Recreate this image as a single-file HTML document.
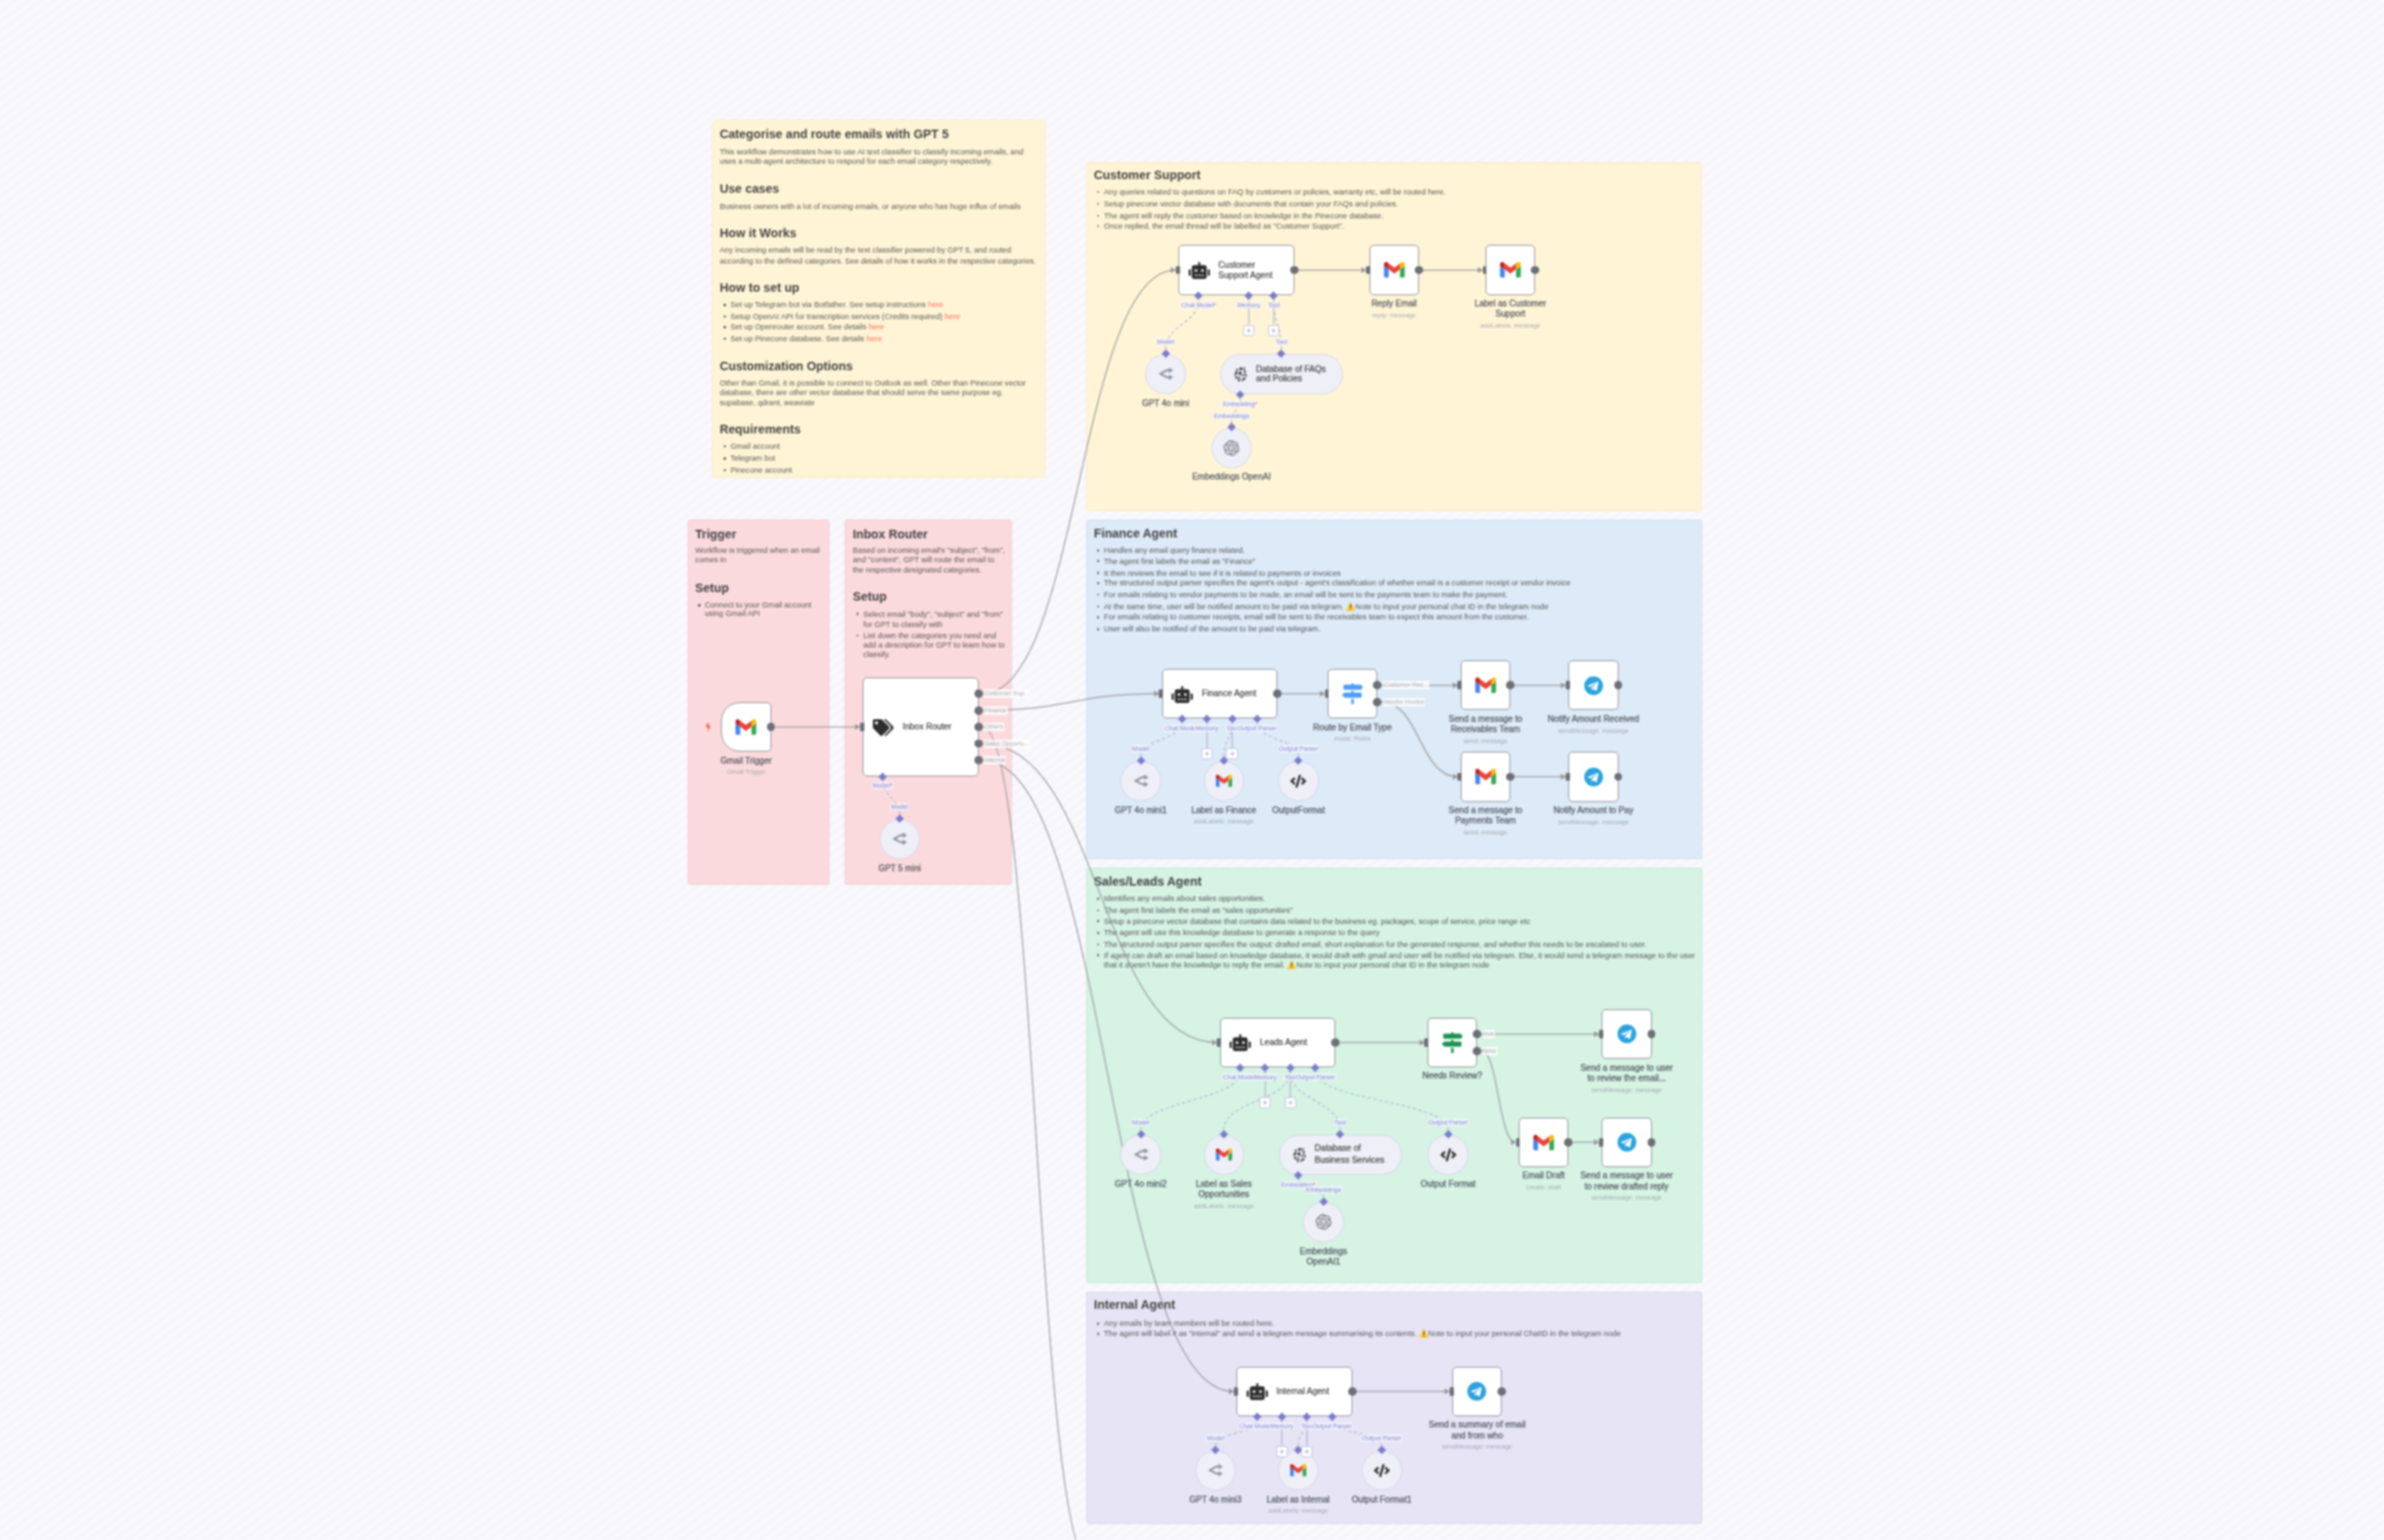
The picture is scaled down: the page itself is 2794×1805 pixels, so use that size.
<!DOCTYPE html>
<html lang="en"><head><meta charset="utf-8"><title>Categorise and route emails with GPT 5</title>
<style>
*{box-sizing:border-box;margin:0;padding:0}
html,body{width:2794px;height:1805px;overflow:hidden}
body{position:relative;font-family:"Liberation Sans",sans-serif;background-color:#f8f8fc;
background-image:repeating-linear-gradient(143deg,#f6f6fb 0,#f6f6fb 4.55px,#f9f9fd 4.55px,#f9f9fd 9.1px);}
#c{position:absolute;left:0;top:0;width:2794px;height:1805px;overflow:hidden;filter:blur(.8px)}
.st{position:absolute;border:1px solid;border-radius:2.5px}
.h{position:absolute;font-weight:700;font-size:14.25px;line-height:18px;color:#414141;white-space:nowrap}
.p{position:absolute;font-size:9.12px;line-height:12px;color:#555;white-space:nowrap}
.p a{color:#ff6d5a}
.bl{position:absolute;width:2.6px;height:2.6px;border-radius:50%;background:#555}
.edges{position:absolute;left:0;top:0;pointer-events:none}
.e{fill:none;stroke:#97999d;stroke-width:1.25}
.ah{fill:#97999d;stroke:#97999d;stroke-width:.6;stroke-linejoin:round}
.d{fill:none;stroke:#aeb0cf;stroke-width:1.2;stroke-dasharray:3.6 3.2}
.pv{fill:none;stroke:#aeb0cf;stroke-width:1.25}
.nd{position:absolute;background:#fff;border:1.4px solid #8c8f95;border-radius:5px}
.nd.trg{border-radius:22px 5px 5px 22px}
.sn{position:absolute;background:#eeeff7;border:1px solid #d6d6e8;border-radius:24px}
.ic{position:absolute;display:block;overflow:visible}
.hin{position:absolute;width:4.9px;height:9.8px;background:#6c7075;border-radius:1px}
.hout{position:absolute;width:9.7px;height:9.7px;border-radius:50%;background:#6c7075}
.dm{position:absolute;width:6.8px;height:6.8px;background:#7b7ccb;transform:rotate(45deg)}
.il{position:absolute;display:flex;align-items:center;font-size:10px;line-height:11.6px;color:#3c3c3c;white-space:nowrap;-webkit-text-stroke:.2px #3c3c3c}
.nl{position:absolute;width:200px;text-align:center;white-space:nowrap}
.nl .t{font-size:10px;line-height:12.3px;color:#4d535e;-webkit-text-stroke:.25px #4d535e}
.nl .s{font-size:7.6px;line-height:10px;color:#a5a9b3;margin-top:2.4px}
.pl{position:absolute;width:100px;text-align:center;font-size:7.4px;line-height:10px;color:#8284d3;white-space:nowrap}
.pl span{background:rgba(244,245,252,.7);padding:0 1px;border-radius:1px}
.pl i{color:#f0504a;font-style:normal}
.ol{position:absolute;font-size:7.2px;line-height:10px;color:#a9a9ae;white-space:nowrap;background:rgba(255,255,255,.8);padding:0 1px}
.plus{position:absolute;width:13.2px;height:13.2px;background:#fff;border:1px solid #c3c4de;border-radius:2px}
.plus b{position:absolute;left:3.1px;top:5.1px;width:5px;height:1px;background:#a9abc9}
.plus u{position:absolute;left:5.1px;top:3.1px;width:1px;height:5px;background:#a9abc9}
</style></head>
<body><div id="c">
<div class="st" style="left:835.2px;top:140.9px;width:390.1px;height:419.4px;background:#fff5d6;border-color:#f7eac2"></div>
<div class="st" style="left:1273.2px;top:190.0px;width:721.2px;height:408.8px;background:#fff5d6;border-color:#f7eac2"></div>
<div class="st" style="left:806.3px;top:608.5px;width:165.7px;height:428.5px;background:#fbdadd;border-color:#f3c9cd"></div>
<div class="st" style="left:990.3px;top:608.5px;width:196.0px;height:428.5px;background:#fbdadd;border-color:#f3c9cd"></div>
<div class="st" style="left:1273.0px;top:608.7px;width:721.6px;height:398.8px;background:#ddeaf7;border-color:#cfdff0"></div>
<div class="st" style="left:1273.0px;top:1017.0px;width:721.6px;height:486.8px;background:#d6f3e4;border-color:#c4e8d5"></div>
<div class="st" style="left:1273.0px;top:1514.2px;width:721.6px;height:272.1px;background:#e6e4f5;border-color:#d8d5ec"></div>
<div class="h" style="left:843.4px;top:148.1px">Categorise and route emails with GPT 5</div>
<div class="p" style="left:843.4px;top:171.6px">This workflow demonstrates how to use AI text classifier to classify incoming emails, and</div>
<div class="p" style="left:843.4px;top:183.4px">uses a multi-agent architecture to respond for each email category respectively.</div>
<div class="h" style="left:843.4px;top:212.4px">Use cases</div>
<div class="p" style="left:843.4px;top:235.5px">Business owners with a lot of incoming emails, or anyone who has huge influx of emails</div>
<div class="h" style="left:843.4px;top:264.1px">How it Works</div>
<div class="p" style="left:843.4px;top:287.3px">Any incoming emails will be read by the text classifier powered by GPT 5, and routed</div>
<div class="p" style="left:843.4px;top:299.5px">according to the defined categories. See details of how it works in the respective categories.</div>
<div class="h" style="left:843.4px;top:328.3px">How to set up</div>
<div class="bl" style="left:848.0px;top:356.1px"></div>
<div class="p" style="left:855.9px;top:351.4px">Set up Telegram bot via Botfather. See setup instructions <a>here</a></div>
<div class="bl" style="left:848.0px;top:369.7px"></div>
<div class="p" style="left:855.9px;top:365.0px">Setup OpenAI API for transcription services (Credits required) <a>here</a></div>
<div class="bl" style="left:848.0px;top:382.1px"></div>
<div class="p" style="left:855.9px;top:377.4px">Set up Openrouter account. See details <a>here</a></div>
<div class="bl" style="left:848.0px;top:395.9px"></div>
<div class="p" style="left:855.9px;top:391.2px">Set up Pinecone database. See details <a>here</a></div>
<div class="h" style="left:843.4px;top:420.2px">Customization Options</div>
<div class="p" style="left:843.4px;top:443.3px">Other than Gmail, it is possible to connect to Outlook as well. Other than Pinecone vector</div>
<div class="p" style="left:843.4px;top:453.7px">database, there are other vector database that should serve the same purpose eg.</div>
<div class="p" style="left:843.4px;top:465.5px">supabase, qdrant, weaviate</div>
<div class="h" style="left:843.4px;top:494.3px">Requirements</div>
<div class="bl" style="left:848.0px;top:521.9px"></div>
<div class="p" style="left:855.9px;top:517.2px">Gmail account</div>
<div class="bl" style="left:848.0px;top:536.0px"></div>
<div class="p" style="left:855.9px;top:531.3px">Telegram bot</div>
<div class="bl" style="left:848.0px;top:549.8px"></div>
<div class="p" style="left:855.9px;top:545.1px">Pinecone account</div>
<div class="h" style="left:814.7px;top:616.5px">Trigger</div>
<div class="p" style="left:814.7px;top:639.4px">Workflow is triggered when an email</div>
<div class="p" style="left:814.7px;top:649.6px">comes in</div>
<div class="h" style="left:814.7px;top:680.3px">Setup</div>
<div class="bl" style="left:818.0px;top:708.0px"></div>
<div class="p" style="left:825.9px;top:703.3px">Connect to your Gmail account</div>
<div class="p" style="left:825.9px;top:713.4px">using Gmail API</div>
<div class="h" style="left:999.5px;top:616.5px">Inbox Router</div>
<div class="p" style="left:999.5px;top:639.4px">Based on incoming email's "subject", "from",</div>
<div class="p" style="left:999.5px;top:649.6px">and "content", GPT will route the email to</div>
<div class="p" style="left:999.5px;top:661.6px">the respective designated categories.</div>
<div class="h" style="left:999.5px;top:690.3px">Setup</div>
<div class="bl" style="left:1003.8px;top:718.4px"></div>
<div class="p" style="left:1011.7px;top:713.7px">Select email "body", "subject" and "from"</div>
<div class="p" style="left:1011.7px;top:725.6px">for GPT to classify with</div>
<div class="bl" style="left:1003.8px;top:743.9px"></div>
<div class="p" style="left:1011.7px;top:739.2px">List down the categories you need and</div>
<div class="p" style="left:1011.7px;top:749.6px">add a description for GPT to learn how to</div>
<div class="p" style="left:1011.7px;top:761.4px">classify.</div>
<div class="h" style="left:1282.0px;top:196.0px">Customer Support</div>
<div class="bl" style="left:1285.8px;top:223.9px"></div>
<div class="p" style="left:1293.8px;top:219.2px">Any queries related to questions on FAQ by customers or policies, warranty etc, will be routed here.</div>
<div class="bl" style="left:1285.8px;top:237.9px"></div>
<div class="p" style="left:1293.8px;top:233.2px">Setup pinecone vector database with documents that contain your FAQs and policies.</div>
<div class="bl" style="left:1285.8px;top:251.9px"></div>
<div class="p" style="left:1293.8px;top:247.2px">The agent will reply the customer based on knowledge in the Pinecone database.</div>
<div class="bl" style="left:1285.8px;top:263.9px"></div>
<div class="p" style="left:1293.8px;top:259.2px">Once replied, the email thread will be labelled as "Customer Support".</div>
<div class="h" style="left:1282.0px;top:616.0px">Finance Agent</div>
<div class="bl" style="left:1285.8px;top:644.0px"></div>
<div class="p" style="left:1293.8px;top:639.2px">Handles any email query finance related.</div>
<div class="bl" style="left:1285.8px;top:656.2px"></div>
<div class="p" style="left:1293.8px;top:651.5px">The agent first labels the email as "Finance"</div>
<div class="bl" style="left:1285.8px;top:670.2px"></div>
<div class="p" style="left:1293.8px;top:665.5px">It then reviews the email to see if it is related to payments or invoices</div>
<div class="bl" style="left:1285.8px;top:682.0px"></div>
<div class="p" style="left:1293.8px;top:677.2px">The structured output parser specifies the agent's output - agent's classification of whether email is a customer receipt or vendor invoice</div>
<div class="bl" style="left:1285.8px;top:695.7px"></div>
<div class="p" style="left:1293.8px;top:691.0px">For emails relating to vendor payments to be made, an email will be sent to the payments team to make the payment.</div>
<div class="bl" style="left:1285.8px;top:709.7px"></div>
<div class="p" style="left:1293.8px;top:705.0px">At the same time, user will be notified amount to be paid via telegram. &#9888;&#65039;Note to input your personal chat ID in the telegram node</div>
<div class="bl" style="left:1285.8px;top:722.0px"></div>
<div class="p" style="left:1293.8px;top:717.2px">For emails relating to customer receipts, email will be sent to the receivables team to expect this amount from the customer.</div>
<div class="bl" style="left:1285.8px;top:736.0px"></div>
<div class="p" style="left:1293.8px;top:731.2px">User will also be notified of the amount to be paid via telegram.</div>
<div class="h" style="left:1282.0px;top:1024.0px">Sales/Leads Agent</div>
<div class="bl" style="left:1285.8px;top:1052.0px"></div>
<div class="p" style="left:1293.8px;top:1047.2px">Identifies any emails about sales opportunities.</div>
<div class="bl" style="left:1285.8px;top:1065.7px"></div>
<div class="p" style="left:1293.8px;top:1061.0px">The agent first labels the email as "sales opportunities"</div>
<div class="bl" style="left:1285.8px;top:1078.2px"></div>
<div class="p" style="left:1293.8px;top:1073.5px">Setup a pinecone vector database that contains data related to the business eg. packages, scope of service, price range etc</div>
<div class="bl" style="left:1285.8px;top:1092.0px"></div>
<div class="p" style="left:1293.8px;top:1087.2px">The agent will use this knowledge database to generate a response to the query</div>
<div class="bl" style="left:1285.8px;top:1105.7px"></div>
<div class="p" style="left:1293.8px;top:1101.0px">The structured output parser specifies the output: drafted email, short explanation for the generated response, and whether this needs to be escalated to user.</div>
<div class="bl" style="left:1285.8px;top:1118.2px"></div>
<div class="p" style="left:1293.8px;top:1113.5px">If agent can draft an email based on knowledge database, it would draft with gmail and user will be notified via telegram. Else, it would send a telegram message to the user</div>
<div class="p" style="left:1293.8px;top:1125.2px">that it doesn't have the knowledge to reply the email. &#9888;&#65039;Note to input your personal chat ID in the telegram node</div>
<div class="h" style="left:1282.0px;top:1519.8px">Internal Agent</div>
<div class="bl" style="left:1285.8px;top:1550.0px"></div>
<div class="p" style="left:1293.8px;top:1545.2px">Any emails by team members will be routed here.</div>
<div class="bl" style="left:1285.8px;top:1562.0px"></div>
<div class="p" style="left:1293.8px;top:1557.2px">The agent will label it as "internal" and send a telegram message summarising its contents. &#9888;&#65039;Note to input your personal ChatID in the telegram node</div>
<svg class="edges" width="2794" height="1805" viewBox="0 0 2794 1805"><path class="d" d="M1054.30,954.70 C1054.30,934.82 1034.60,934.82 1034.60,914.95"/><path class="d" d="M1366.12,409.46 C1366.12,379.99 1404.87,379.99 1404.87,350.53"/><path class="d" d="M1501.75,409.46 C1501.75,379.99 1492.87,379.99 1492.87,350.53"/><path class="d" d="M1443.30,496.30 C1443.30,481.53 1453.30,481.53 1453.30,466.76"/><path class="pv" d="M1463.54,349.73 V380.53"/><path class="pv" d="M1492.87,349.73 V380.53"/><path class="d" d="M1336.91,886.48 C1336.91,866.74 1385.39,866.74 1385.39,847.01"/><path class="d" d="M1434.26,886.48 C1434.26,866.74 1444.07,866.74 1444.07,847.01"/><path class="d" d="M1521.88,886.48 C1521.88,866.74 1473.39,866.74 1473.39,847.01"/><path class="pv" d="M1414.72,846.21 V877.01"/><path class="pv" d="M1444.07,846.21 V877.01"/><path class="d" d="M1336.91,1324.55 C1336.91,1290.22 1453.54,1290.22 1453.54,1255.88"/><path class="d" d="M1434.26,1324.55 C1434.26,1290.22 1512.21,1290.22 1512.21,1255.88"/><path class="d" d="M1570.55,1324.55 C1570.55,1290.22 1512.21,1290.22 1512.21,1255.88"/><path class="d" d="M1697.11,1324.55 C1697.11,1290.22 1541.54,1290.22 1541.54,1255.88"/><path class="d" d="M1551.08,1403.41 C1551.08,1392.63 1521.85,1392.63 1521.85,1381.85"/><path class="pv" d="M1482.87,1255.08 V1285.88"/><path class="pv" d="M1512.21,1255.08 V1285.88"/><path class="d" d="M1424.53,1694.48 C1424.53,1679.62 1473.01,1679.62 1473.01,1664.75"/><path class="d" d="M1521.39,1694.48 C1521.39,1679.62 1531.68,1679.62 1531.68,1664.75"/><path class="d" d="M1619.23,1694.48 C1619.23,1679.62 1561.01,1679.62 1561.01,1664.75"/><path class="pv" d="M1502.34,1663.95 V1694.75"/><path class="pv" d="M1531.68,1663.95 V1694.75"/><path class="e" d="M908.50,852.00 C958.02,852.00 958.02,852.00 1007.53,852.00"/><path class="ah" d="M1002.33,848.90 L1007.83,852.00 L1002.33,855.10z"/><path class="e" d="M1151.58,813.30 C1264.53,813.30 1264.53,316.58 1377.47,316.58"/><path class="ah" d="M1372.27,313.48 L1377.77,316.58 L1372.27,319.68z"/><path class="e" d="M1151.58,832.75 C1254.79,832.75 1254.79,813.06 1358.00,813.06"/><path class="ah" d="M1352.80,809.96 L1358.30,813.06 L1352.80,816.16z"/><path class="e" d="M1151.58,871.65 C1288.86,871.65 1288.86,1221.93 1426.14,1221.93"/><path class="ah" d="M1420.94,1218.83 L1426.44,1221.93 L1420.94,1225.03z"/><path class="e" d="M1151.58,891.10 C1298.60,891.10 1298.60,1630.80 1445.61,1630.80"/><path class="ah" d="M1440.41,1627.70 L1445.91,1630.80 L1440.41,1633.90z"/><path class="e" d="M1151.58,852.20 C1214.99,852.20 1214.99,1834.00 1278.40,1834.00"/><path class="e" d="M1521.51,316.58 C1561.30,316.58 1561.30,316.58 1601.08,316.58"/><path class="ah" d="M1595.88,313.48 L1601.38,316.58 L1595.88,319.68z"/><path class="e" d="M1667.83,316.58 C1702.60,316.58 1702.60,316.58 1737.37,316.58"/><path class="ah" d="M1732.17,313.48 L1737.67,316.58 L1732.17,319.68z"/><path class="e" d="M1502.04,813.06 C1527.22,813.06 1527.22,813.06 1552.40,813.06"/><path class="ah" d="M1547.20,809.96 L1552.70,813.06 L1547.20,816.16z"/><path class="e" d="M1619.15,803.31 C1663.66,803.31 1663.66,803.33 1708.16,803.33"/><path class="ah" d="M1702.96,800.23 L1708.46,803.33 L1702.96,806.43z"/><path class="e" d="M1774.91,803.33 C1804.82,803.33 1804.82,803.33 1834.72,803.33"/><path class="ah" d="M1829.52,800.23 L1835.02,803.33 L1829.52,806.43z"/><path class="e" d="M1619.15,822.81 C1663.66,822.81 1663.66,910.41 1708.16,910.41"/><path class="ah" d="M1702.96,907.31 L1708.46,910.41 L1702.96,913.51z"/><path class="e" d="M1774.91,910.41 C1804.82,910.41 1804.82,910.41 1834.72,910.41"/><path class="ah" d="M1829.52,907.31 L1835.02,910.41 L1829.52,913.51z"/><path class="e" d="M1570.19,1221.93 C1619.71,1221.93 1619.71,1221.93 1669.22,1221.93"/><path class="ah" d="M1664.02,1218.83 L1669.52,1221.93 L1664.02,1225.03z"/><path class="e" d="M1735.97,1212.18 C1804.82,1212.18 1804.82,1212.19 1873.66,1212.19"/><path class="ah" d="M1868.46,1209.10 L1873.96,1212.19 L1868.46,1215.29z"/><path class="e" d="M1735.97,1231.68 C1756.14,1231.68 1756.14,1338.75 1776.31,1338.75"/><path class="ah" d="M1771.11,1335.65 L1776.61,1338.75 L1771.11,1341.85z"/><path class="e" d="M1843.06,1338.75 C1858.36,1338.75 1858.36,1338.75 1873.66,1338.75"/><path class="ah" d="M1868.46,1335.65 L1873.96,1338.75 L1868.46,1341.85z"/><path class="e" d="M1589.66,1630.80 C1644.04,1630.80 1644.04,1630.80 1698.43,1630.80"/><path class="ah" d="M1693.23,1627.70 L1698.73,1630.80 L1693.23,1633.90z"/></svg>
<div class="nd trg" style="left:845.35px;top:822.85px;width:58.30px;height:58.30px"></div>
<svg class="ic" style="left:862.35px;top:842.89px" width="24.30" height="18.22" viewBox="52 42 88 66"><path fill="#4285f4" d="M58 108h14V74L52 59v43c0 3.32 2.69 6 6 6"/><path fill="#34a853" d="M120 108h14c3.32 0 6-2.69 6-6V59l-20 15"/><path fill="#fbbc04" d="M120 48v26l20-15v-8c0-7.42-8.47-11.65-14.4-7.2"/><path fill="#ea4335" d="M72 74V48l24 18 24-18v26L96 92"/><path fill="#c5221f" d="M52 51v8l20 15V48l-5.6-4.2c-5.94-4.45-14.4-.22-14.4 7.2"/></svg>
<div class="hout" style="left:898.80px;top:847.15px"></div>
<svg class="ic" style="left:827px;top:847.5px" width="6.5" height="9" viewBox="0 0 320 512"><path fill="#ff6d5a" d="M296 160H180.600l42.600-129.800C227.200 15 215.700 0 200 0H56C44 0 33.800 8.900 32.200 20.800l-32 240C-1.700 275.200 9.500 288 24 288h118.700L96.600 482.500c-3.600 15.200 8 29.500 23.300 29.500 8.400 0 16.400-4.400 20.800-12l176-304c9.300-15.900-2.200-36-20.700-36z"/></svg>
<div class="nd" style="left:1011.13px;top:793.85px;width:135.60px;height:116.30px"></div>
<svg class="ic" style="left:1022.99px;top:842.78px" width="24.30" height="19.44" viewBox="0 0 640 512"><path fill="#2e2e2e" d="M497.941 225.941L286.059 14.059A48 48 0 0 0 252.118 0H48C21.49 0 0 21.49 0 48v204.118a48 48 0 0 0 14.059 33.941l211.882 211.882c18.744 18.745 49.136 18.746 67.882 0l204.118-204.118c18.745-18.745 18.745-49.137 0-67.882zM112 160c-26.51 0-48-21.49-48-48s21.49-48 48-48 48 21.49 48 48-21.49 48-48 48zm513.941 133.823L421.823 497.941c-18.745 18.745-49.137 18.745-67.882 0l-.36-.36L527.64 323.522c16.999-16.999 26.36-39.6 26.36-63.64s-9.362-46.641-26.36-63.64L331.397 0h48.721a48 48 0 0 1 33.941 14.059l211.882 211.882c18.745 18.745 18.745 49.137 0 67.882z"/></svg>
<div class="il" style="left:1057.93px;top:822.00px;height:60px">Inbox Router</div>
<div class="hin" style="left:1007.74px;top:847.10px"></div>
<div class="hout" style="left:1141.88px;top:808.45px"></div>
<div class="hout" style="left:1141.88px;top:827.90px"></div>
<div class="hout" style="left:1141.88px;top:847.35px"></div>
<div class="hout" style="left:1141.88px;top:866.80px"></div>
<div class="hout" style="left:1141.88px;top:886.25px"></div>
<div class="dm" style="left:1031.20px;top:907.25px"></div>
<div class="sn" style="left:1030.60px;top:959.80px;width:47.40px;height:47.40px"></div>
<svg class="ic" style="left:1045.15px;top:974.35px" width="18.30" height="18.30" viewBox="0 0 24 24"><g fill="none" stroke="#8f95a1" stroke-width="3" stroke-linejoin="round"><path d="M2.500 12C8 12 9.500 6.500 16 6.500h2"/><path d="M2.500 12C8 12 9.500 17.500 16 17.500h2"/></g><path fill="#8f95a1" d="M17 2.200 23.600 6.500 17 10.800zM17 13.200l6.600 4.300-6.600 4.300z"/></svg>
<div class="dm" style="left:1050.90px;top:955.80px"></div>
<div class="nd" style="left:1381.07px;top:287.43px;width:135.60px;height:58.30px"></div>
<svg class="ic" style="left:1392.57px;top:307.08px" width="25.00" height="20.00" viewBox="0 0 640 512"><path fill="#2e2e2e" d="M32,224H64V416H32A31.96166,31.96166,0,0,1,0,384V256A31.96166,31.96166,0,0,1,32,224Zm512-48V448a64.06328,64.06328,0,0,1-64,64H160a64.06328,64.06328,0,0,1-64-64V176a79.974,79.974,0,0,1,80-80H288V32a32,32,0,0,1,64,0V96H464A79.974,79.974,0,0,1,544,176ZM264,256a40,40,0,1,0-40,40A39.997,39.997,0,0,0,264,256Zm-8,128H192v32h64Zm96,0H288v32h64ZM456,256a40,40,0,1,0-40,40A39.997,39.997,0,0,0,456,256Zm-8,128H384v32h64ZM640,256V384a31.96166,31.96166,0,0,1-32,32H576V224h32A31.96166,31.96166,0,0,1,640,256Z"/></svg>
<div class="il" style="left:1427.87px;top:286.58px;height:60px">Customer<br>Support Agent</div>
<div class="hin" style="left:1377.66px;top:311.68px"></div>
<div class="hout" style="left:1511.82px;top:311.73px"></div>
<div class="dm" style="left:1401.46px;top:342.63px"></div>
<div class="dm" style="left:1460.13px;top:342.63px"></div>
<div class="dm" style="left:1489.46px;top:342.63px"></div>
<div class="nd" style="left:1604.68px;top:287.43px;width:58.30px;height:58.30px"></div>
<svg class="ic" style="left:1621.68px;top:307.46px" width="24.30" height="18.22" viewBox="52 42 88 66"><path fill="#4285f4" d="M58 108h14V74L52 59v43c0 3.32 2.69 6 6 6"/><path fill="#34a853" d="M120 108h14c3.32 0 6-2.69 6-6V59l-20 15"/><path fill="#fbbc04" d="M120 48v26l20-15v-8c0-7.42-8.47-11.65-14.4-7.2"/><path fill="#ea4335" d="M72 74V48l24 18 24-18v26L96 92"/><path fill="#c5221f" d="M52 51v8l20 15V48l-5.6-4.2c-5.94-4.45-14.4-.22-14.4 7.2"/></svg>
<div class="hin" style="left:1601.28px;top:311.68px"></div>
<div class="hout" style="left:1658.13px;top:311.73px"></div>
<div class="nd" style="left:1740.97px;top:287.43px;width:58.30px;height:58.30px"></div>
<svg class="ic" style="left:1757.97px;top:307.46px" width="24.30" height="18.22" viewBox="52 42 88 66"><path fill="#4285f4" d="M58 108h14V74L52 59v43c0 3.32 2.69 6 6 6"/><path fill="#34a853" d="M120 108h14c3.32 0 6-2.69 6-6V59l-20 15"/><path fill="#fbbc04" d="M120 48v26l20-15v-8c0-7.42-8.47-11.65-14.4-7.2"/><path fill="#ea4335" d="M72 74V48l24 18 24-18v26L96 92"/><path fill="#c5221f" d="M52 51v8l20 15V48l-5.6-4.2c-5.94-4.45-14.4-.22-14.4 7.2"/></svg>
<div class="hin" style="left:1737.57px;top:311.68px"></div>
<div class="hout" style="left:1794.42px;top:311.73px"></div>
<div class="sn" style="left:1342.42px;top:414.56px;width:47.40px;height:47.40px"></div>
<svg class="ic" style="left:1356.97px;top:429.11px" width="18.30" height="18.30" viewBox="0 0 24 24"><g fill="none" stroke="#8f95a1" stroke-width="3" stroke-linejoin="round"><path d="M2.500 12C8 12 9.500 6.500 16 6.500h2"/><path d="M2.500 12C8 12 9.500 17.500 16 17.500h2"/></g><path fill="#8f95a1" d="M17 2.200 23.600 6.500 17 10.800zM17 13.200l6.600 4.300-6.600 4.300z"/></svg>
<div class="dm" style="left:1362.72px;top:410.56px"></div>
<div class="sn" style="left:1429.75px;top:414.56px;width:144.00px;height:47.40px"></div>
<svg class="ic" style="left:1445.75px;top:429.60px" width="16.00" height="17.33" viewBox="0 0 24 26"><g fill="none" stroke="#2b2b2b" stroke-width="2" stroke-linecap="round" stroke-linejoin="round"><path d="M12.800 1.500 12 6.200M10.300 3.300l2.500-1.800 1.900 2.400"/><path d="M11.500 9.300l-.9 5M9 11.100l2.500-1.800 1.900 2.400"/><path d="M10 17.500l-.8 4.300"/><circle cx="8.800" cy="24.300" r=".7" fill="#2b2b2b"/><path d="M5.500 7.800 3.300 10.200l3.100.8M17.600 6.300l2.900 1.600-1.600 2.800M4.800 16.200 3.200 19.100l3.300.5M16.200 19.800l1.900 2.600 2-2.800M20.700 13.300l1.700 2.500M1.800 13.800l1.900-2.100M14.800 14.300l4.200 1M7.300 5l-3-.4M17.300 3.300l1.900-1.300M13.500 22.500l2 1.500"/></g></svg>
<div class="il" style="left:1472.05px;top:408.26px;height:60px">Database of FAQs<br>and Policies</div>
<div class="dm" style="left:1498.35px;top:410.56px"></div>
<div class="dm" style="left:1449.90px;top:459.16px"></div>
<div class="sn" style="left:1419.60px;top:501.40px;width:47.40px;height:47.40px"></div>
<svg class="ic" style="left:1434.15px;top:515.95px" width="18.30" height="18.30" viewBox="0 0 24 24"><path fill="#6d6d73" d="M22.2819 9.8211a5.9847 5.9847 0 0 0-.5157-4.9108 6.0462 6.0462 0 0 0-6.5098-2.9A6.0651 6.0651 0 0 0 4.9807 4.1818a5.9847 5.9847 0 0 0-3.9977 2.9 6.0462 6.0462 0 0 0 .7427 7.0966 5.98 5.98 0 0 0 .511 4.9107 6.051 6.051 0 0 0 6.5146 2.9001A5.9847 5.9847 0 0 0 13.2599 24a6.0557 6.0557 0 0 0 5.7718-4.2058 5.9894 5.9894 0 0 0 3.9977-2.9001 6.0557 6.0557 0 0 0-.7475-7.0729zm-9.022 12.6081a4.4755 4.4755 0 0 1-2.8764-1.0408l.1419-.0804 4.7783-2.7582a.7948.7948 0 0 0 .3927-.6813v-6.7369l2.02 1.1686a.071.071 0 0 1 .038.052v5.5826a4.504 4.504 0 0 1-4.4945 4.4944zm-9.6607-4.1254a4.4708 4.4708 0 0 1-.5346-3.0137l.142.0852 4.783 2.7582a.7712.7712 0 0 0 .7806 0l5.8428-3.3685v2.3324a.0804.0804 0 0 1-.0332.0615L9.74 19.9502a4.4992 4.4992 0 0 1-6.1408-1.6464zM2.3408 7.8956a4.485 4.485 0 0 1 2.3655-1.9728V11.6a.7664.7664 0 0 0 .3879.6765l5.8144 3.3543-2.0201 1.1685a.0757.0757 0 0 1-.071 0l-4.8303-2.7865A4.504 4.504 0 0 1 2.3408 7.872zm16.5963 3.8558L13.1038 8.364 15.1192 7.2a.0757.0757 0 0 1 .071 0l4.8303 2.7913a4.4944 4.4944 0 0 1-.6765 8.1042v-5.6772a.79.79 0 0 0-.407-.667zm2.0107-3.0231l-.142-.0852-4.7735-2.7818a.7759.7759 0 0 0-.7854 0L9.409 9.2297V6.8974a.0662.0662 0 0 1 .0284-.0615l4.8303-2.7866a4.4992 4.4992 0 0 1 6.6802 4.66zM8.3065 12.863l-2.02-1.1638a.0804.0804 0 0 1-.038-.0567V6.0742a4.4992 4.4992 0 0 1 7.3757-3.4537l-.142.0805L8.704 5.459a.7948.7948 0 0 0-.3927.6813zm1.0976-2.3654l2.602-1.4998 2.6069 1.4998v2.9994l-2.5974 1.4997-2.6067-1.4997Z"/></svg>
<div class="dm" style="left:1439.90px;top:497.40px"></div>
<div class="plus" style="left:1456.94px;top:380.53px"><b></b><u></u></div>
<div class="plus" style="left:1486.27px;top:380.53px"><b></b><u></u></div>
<div class="nd" style="left:1361.60px;top:783.91px;width:135.60px;height:58.30px"></div>
<svg class="ic" style="left:1373.10px;top:803.56px" width="25.00" height="20.00" viewBox="0 0 640 512"><path fill="#2e2e2e" d="M32,224H64V416H32A31.96166,31.96166,0,0,1,0,384V256A31.96166,31.96166,0,0,1,32,224Zm512-48V448a64.06328,64.06328,0,0,1-64,64H160a64.06328,64.06328,0,0,1-64-64V176a79.974,79.974,0,0,1,80-80H288V32a32,32,0,0,1,64,0V96H464A79.974,79.974,0,0,1,544,176ZM264,256a40,40,0,1,0-40,40A39.997,39.997,0,0,0,264,256Zm-8,128H192v32h64Zm96,0H288v32h64ZM456,256a40,40,0,1,0-40,40A39.997,39.997,0,0,0,456,256Zm-8,128H384v32h64ZM640,256V384a31.96166,31.96166,0,0,1-32,32H576V224h32A31.96166,31.96166,0,0,1,640,256Z"/></svg>
<div class="il" style="left:1408.39px;top:783.06px;height:60px">Finance Agent</div>
<div class="hin" style="left:1358.19px;top:808.16px"></div>
<div class="hout" style="left:1492.35px;top:808.21px"></div>
<div class="dm" style="left:1381.99px;top:839.11px"></div>
<div class="dm" style="left:1411.32px;top:839.11px"></div>
<div class="dm" style="left:1440.66px;top:839.11px"></div>
<div class="dm" style="left:1469.99px;top:839.11px"></div>
<div class="nd" style="left:1556.00px;top:783.91px;width:58.30px;height:58.30px"></div>
<svg class="ic" style="left:1573.00px;top:800.91px" width="24.30" height="24.30" viewBox="0 0 512 512"><path fill="#4a9ef7" d="M507.31 84.69L464 41.37c-6-6-14.14-9.37-22.63-9.37H288V16c0-8.84-7.16-16-16-16h-32c-8.84 0-16 7.16-16 16v16H56c-13.25 0-24 10.75-24 24v80c0 13.25 10.75 24 24 24h385.37c8.490 0 16.620-3.370 22.630-9.370l43.310-43.310c6.250-6.260 6.250-16.380 0-22.630zM224 496c0 8.840 7.160 16 16 16h32c8.840 0 16-7.160 16-16V384h-64v112zm232-272H288v-32h-64v32H70.630c-8.490 0-16.620 3.370-22.630 9.370L4.690 276.690c-6.250 6.250-6.250 16.380 0 22.630L48 342.630c6 6 14.140 9.370 22.630 9.370H456c13.250 0 24-10.750 24-24v-80c0-13.250-10.750-24-24-24z"/></svg>
<div class="hin" style="left:1552.60px;top:808.16px"></div>
<div class="hout" style="left:1609.46px;top:798.46px"></div>
<div class="hout" style="left:1609.46px;top:817.96px"></div>
<div class="nd" style="left:1711.76px;top:774.18px;width:58.30px;height:58.30px"></div>
<svg class="ic" style="left:1728.76px;top:794.21px" width="24.30" height="18.22" viewBox="52 42 88 66"><path fill="#4285f4" d="M58 108h14V74L52 59v43c0 3.32 2.69 6 6 6"/><path fill="#34a853" d="M120 108h14c3.32 0 6-2.69 6-6V59l-20 15"/><path fill="#fbbc04" d="M120 48v26l20-15v-8c0-7.42-8.47-11.65-14.4-7.2"/><path fill="#ea4335" d="M72 74V48l24 18 24-18v26L96 92"/><path fill="#c5221f" d="M52 51v8l20 15V48l-5.6-4.2c-5.94-4.45-14.4-.22-14.4 7.2"/></svg>
<div class="hin" style="left:1708.36px;top:798.43px"></div>
<div class="hout" style="left:1765.22px;top:798.48px"></div>
<div class="nd" style="left:1838.32px;top:774.18px;width:58.30px;height:58.30px"></div>
<svg class="ic" style="left:1855.77px;top:791.62px" width="23.40" height="23.40" viewBox="0 0 66 66"><circle cx="33" cy="33" r="31" fill="#2ba3df"/><path fill="#fff" d="M14.6 32.4 46.7 20c1.5-.5 2.8.4 2.3 2.6l-5.5 25.8c-.4 1.8-1.5 2.3-3 1.4l-8.4-6.2-4 3.9c-.5.5-.8.8-1.7.8l.6-8.5 15.500-14c.7-.6-.1-.9-1-.4L22.400 37.500l-8.200-2.600c-1.800-.500-1.800-1.800.400-2.500z"/></svg>
<div class="hin" style="left:1834.92px;top:798.43px"></div>
<div class="hout" style="left:1891.77px;top:798.48px"></div>
<div class="nd" style="left:1711.76px;top:881.26px;width:58.30px;height:58.30px"></div>
<svg class="ic" style="left:1728.76px;top:901.30px" width="24.30" height="18.22" viewBox="52 42 88 66"><path fill="#4285f4" d="M58 108h14V74L52 59v43c0 3.32 2.69 6 6 6"/><path fill="#34a853" d="M120 108h14c3.32 0 6-2.69 6-6V59l-20 15"/><path fill="#fbbc04" d="M120 48v26l20-15v-8c0-7.42-8.47-11.65-14.4-7.2"/><path fill="#ea4335" d="M72 74V48l24 18 24-18v26L96 92"/><path fill="#c5221f" d="M52 51v8l20 15V48l-5.6-4.2c-5.94-4.45-14.4-.22-14.4 7.2"/></svg>
<div class="hin" style="left:1708.36px;top:905.51px"></div>
<div class="hout" style="left:1765.22px;top:905.56px"></div>
<div class="nd" style="left:1838.32px;top:881.26px;width:58.30px;height:58.30px"></div>
<svg class="ic" style="left:1855.77px;top:898.71px" width="23.40" height="23.40" viewBox="0 0 66 66"><circle cx="33" cy="33" r="31" fill="#2ba3df"/><path fill="#fff" d="M14.6 32.4 46.7 20c1.5-.5 2.8.4 2.3 2.6l-5.5 25.8c-.4 1.8-1.5 2.3-3 1.4l-8.4-6.2-4 3.9c-.5.5-.8.8-1.7.8l.6-8.5 15.500-14c.7-.6-.1-.9-1-.4L22.400 37.500l-8.200-2.600c-1.800-.500-1.800-1.800.400-2.500z"/></svg>
<div class="hin" style="left:1834.92px;top:905.51px"></div>
<div class="hout" style="left:1891.77px;top:905.56px"></div>
<div class="sn" style="left:1313.21px;top:891.58px;width:47.40px;height:47.40px"></div>
<svg class="ic" style="left:1327.76px;top:906.13px" width="18.30" height="18.30" viewBox="0 0 24 24"><g fill="none" stroke="#8f95a1" stroke-width="3" stroke-linejoin="round"><path d="M2.500 12C8 12 9.500 6.500 16 6.500h2"/><path d="M2.500 12C8 12 9.500 17.500 16 17.500h2"/></g><path fill="#8f95a1" d="M17 2.200 23.600 6.500 17 10.800zM17 13.200l6.600 4.300-6.600 4.300z"/></svg>
<div class="dm" style="left:1333.51px;top:887.58px"></div>
<div class="sn" style="left:1410.56px;top:891.58px;width:47.40px;height:47.40px"></div>
<svg class="ic" style="left:1424.76px;top:908.15px" width="19.00" height="14.25" viewBox="52 42 88 66"><path fill="#4285f4" d="M58 108h14V74L52 59v43c0 3.32 2.69 6 6 6"/><path fill="#34a853" d="M120 108h14c3.32 0 6-2.69 6-6V59l-20 15"/><path fill="#fbbc04" d="M120 48v26l20-15v-8c0-7.42-8.47-11.65-14.4-7.2"/><path fill="#ea4335" d="M72 74V48l24 18 24-18v26L96 92"/><path fill="#c5221f" d="M52 51v8l20 15V48l-5.6-4.2c-5.94-4.45-14.4-.22-14.4 7.2"/></svg>
<div class="dm" style="left:1430.86px;top:887.58px"></div>
<div class="sn" style="left:1498.18px;top:891.58px;width:47.40px;height:47.40px"></div>
<svg class="ic" style="left:1512.38px;top:907.68px" width="19.00" height="15.20" viewBox="0 0 640 512"><path fill="#2e2e2e" d="M278.9 511.5l-61-17.7c-6.4-1.8-10-8.5-8.2-14.9L346.2 8.7c1.8-6.4 8.5-10 14.9-8.2l61 17.7c6.4 1.8 10 8.5 8.2 14.9L293.8 503.3c-1.900 6.400-8.500 10.100-14.900 8.200zm-114-112.200l43.500-46.400c4.600-4.900 4.300-12.700-.800-17.200L117 256l90.600-79.700c5.100-4.500 5.500-12.300.800-17.200l-43.500-46.400c-4.500-4.800-12.100-5.100-17-.5L3.800 247.200c-5.100 4.700-5.100 12.800 0 17.500l144.100 135.100c4.900 4.600 12.500 4.400 17-.500zm327.200.600l144.100-135.100c5.100-4.700 5.100-12.800 0-17.500L492.100 112.100c-4.800-4.500-12.400-4.300-17 .5L431.600 159c-4.600 4.900-4.300 12.700.8 17.200L523 256l-90.600 79.700c-5.100 4.500-5.500 12.300-.8 17.200l43.500 46.400c4.500 4.900 12.100 5.100 17 .6z"/></svg>
<div class="dm" style="left:1518.48px;top:887.58px"></div>
<div class="plus" style="left:1408.12px;top:877.01px"><b></b><u></u></div>
<div class="plus" style="left:1437.47px;top:877.01px"><b></b><u></u></div>
<div class="nd" style="left:1429.74px;top:1192.78px;width:135.60px;height:58.30px"></div>
<svg class="ic" style="left:1441.24px;top:1212.43px" width="25.00" height="20.00" viewBox="0 0 640 512"><path fill="#2e2e2e" d="M32,224H64V416H32A31.96166,31.96166,0,0,1,0,384V256A31.96166,31.96166,0,0,1,32,224Zm512-48V448a64.06328,64.06328,0,0,1-64,64H160a64.06328,64.06328,0,0,1-64-64V176a79.974,79.974,0,0,1,80-80H288V32a32,32,0,0,1,64,0V96H464A79.974,79.974,0,0,1,544,176ZM264,256a40,40,0,1,0-40,40A39.997,39.997,0,0,0,264,256Zm-8,128H192v32h64Zm96,0H288v32h64ZM456,256a40,40,0,1,0-40,40A39.997,39.997,0,0,0,456,256Zm-8,128H384v32h64ZM640,256V384a31.96166,31.96166,0,0,1-32,32H576V224h32A31.96166,31.96166,0,0,1,640,256Z"/></svg>
<div class="il" style="left:1476.54px;top:1191.93px;height:60px">Leads Agent</div>
<div class="hin" style="left:1426.34px;top:1217.03px"></div>
<div class="hout" style="left:1560.49px;top:1217.08px"></div>
<div class="dm" style="left:1450.14px;top:1247.98px"></div>
<div class="dm" style="left:1479.47px;top:1247.98px"></div>
<div class="dm" style="left:1508.81px;top:1247.98px"></div>
<div class="dm" style="left:1538.14px;top:1247.98px"></div>
<div class="nd" style="left:1672.82px;top:1192.78px;width:58.30px;height:58.30px"></div>
<svg class="ic" style="left:1689.82px;top:1209.78px" width="24.30" height="24.30" viewBox="0 0 512 512"><path fill="#1a9650" d="M507.31 84.69L464 41.37c-6-6-14.14-9.37-22.63-9.37H288V16c0-8.84-7.16-16-16-16h-32c-8.84 0-16 7.16-16 16v16H56c-13.25 0-24 10.75-24 24v80c0 13.25 10.75 24 24 24h385.37c8.490 0 16.620-3.370 22.630-9.370l43.310-43.310c6.250-6.260 6.250-16.380 0-22.630zM224 496c0 8.840 7.160 16 16 16h32c8.840 0 16-7.160 16-16V384h-64v112zm232-272H288v-32h-64v32H70.630c-8.490 0-16.620 3.370-22.630 9.370L4.690 276.690c-6.250 6.250-6.250 16.380 0 22.630L48 342.630c6 6 14.140 9.370 22.630 9.370H456c13.250 0 24-10.750 24-24v-80c0-13.250-10.750-24-24-24z"/></svg>
<div class="hin" style="left:1669.42px;top:1217.03px"></div>
<div class="hout" style="left:1726.28px;top:1207.33px"></div>
<div class="hout" style="left:1726.28px;top:1226.83px"></div>
<div class="nd" style="left:1877.26px;top:1183.04px;width:58.30px;height:58.30px"></div>
<svg class="ic" style="left:1894.71px;top:1200.49px" width="23.40" height="23.40" viewBox="0 0 66 66"><circle cx="33" cy="33" r="31" fill="#2ba3df"/><path fill="#fff" d="M14.6 32.4 46.7 20c1.5-.5 2.8.4 2.3 2.6l-5.5 25.8c-.4 1.8-1.5 2.3-3 1.4l-8.4-6.2-4 3.9c-.5.5-.8.8-1.7.8l.6-8.5 15.500-14c.7-.6-.1-.9-1-.4L22.400 37.500l-8.200-2.600c-1.800-.500-1.800-1.800.400-2.500z"/></svg>
<div class="hin" style="left:1873.86px;top:1207.29px"></div>
<div class="hout" style="left:1930.71px;top:1207.35px"></div>
<div class="nd" style="left:1779.91px;top:1309.60px;width:58.30px;height:58.30px"></div>
<svg class="ic" style="left:1796.91px;top:1329.64px" width="24.30" height="18.22" viewBox="52 42 88 66"><path fill="#4285f4" d="M58 108h14V74L52 59v43c0 3.32 2.69 6 6 6"/><path fill="#34a853" d="M120 108h14c3.32 0 6-2.69 6-6V59l-20 15"/><path fill="#fbbc04" d="M120 48v26l20-15v-8c0-7.42-8.47-11.65-14.4-7.2"/><path fill="#ea4335" d="M72 74V48l24 18 24-18v26L96 92"/><path fill="#c5221f" d="M52 51v8l20 15V48l-5.6-4.2c-5.94-4.45-14.4-.22-14.4 7.2"/></svg>
<div class="hin" style="left:1776.51px;top:1333.85px"></div>
<div class="hout" style="left:1833.36px;top:1333.90px"></div>
<div class="nd" style="left:1877.26px;top:1309.60px;width:58.30px;height:58.30px"></div>
<svg class="ic" style="left:1894.71px;top:1327.05px" width="23.40" height="23.40" viewBox="0 0 66 66"><circle cx="33" cy="33" r="31" fill="#2ba3df"/><path fill="#fff" d="M14.6 32.4 46.7 20c1.5-.5 2.8.4 2.3 2.6l-5.5 25.8c-.4 1.8-1.5 2.3-3 1.4l-8.4-6.2-4 3.9c-.5.5-.8.8-1.7.8l.6-8.5 15.500-14c.7-.6-.1-.9-1-.4L22.400 37.500l-8.200-2.600c-1.800-.500-1.800-1.800.400-2.500z"/></svg>
<div class="hin" style="left:1873.86px;top:1333.85px"></div>
<div class="hout" style="left:1930.71px;top:1333.90px"></div>
<div class="sn" style="left:1313.21px;top:1329.65px;width:47.40px;height:47.40px"></div>
<svg class="ic" style="left:1327.76px;top:1344.20px" width="18.30" height="18.30" viewBox="0 0 24 24"><g fill="none" stroke="#8f95a1" stroke-width="3" stroke-linejoin="round"><path d="M2.500 12C8 12 9.500 6.500 16 6.500h2"/><path d="M2.500 12C8 12 9.500 17.500 16 17.500h2"/></g><path fill="#8f95a1" d="M17 2.200 23.600 6.500 17 10.800zM17 13.200l6.600 4.300-6.600 4.300z"/></svg>
<div class="dm" style="left:1333.51px;top:1325.65px"></div>
<div class="sn" style="left:1410.56px;top:1329.65px;width:47.40px;height:47.40px"></div>
<svg class="ic" style="left:1424.76px;top:1346.23px" width="19.00" height="14.25" viewBox="52 42 88 66"><path fill="#4285f4" d="M58 108h14V74L52 59v43c0 3.32 2.69 6 6 6"/><path fill="#34a853" d="M120 108h14c3.32 0 6-2.69 6-6V59l-20 15"/><path fill="#fbbc04" d="M120 48v26l20-15v-8c0-7.42-8.47-11.65-14.4-7.2"/><path fill="#ea4335" d="M72 74V48l24 18 24-18v26L96 92"/><path fill="#c5221f" d="M52 51v8l20 15V48l-5.6-4.2c-5.94-4.45-14.4-.22-14.4 7.2"/></svg>
<div class="dm" style="left:1430.86px;top:1325.65px"></div>
<div class="sn" style="left:1498.55px;top:1329.65px;width:144.00px;height:47.40px"></div>
<svg class="ic" style="left:1514.55px;top:1344.69px" width="16.00" height="17.33" viewBox="0 0 24 26"><g fill="none" stroke="#2b2b2b" stroke-width="2" stroke-linecap="round" stroke-linejoin="round"><path d="M12.800 1.500 12 6.200M10.300 3.300l2.500-1.800 1.900 2.400"/><path d="M11.500 9.300l-.9 5M9 11.100l2.500-1.800 1.900 2.400"/><path d="M10 17.500l-.8 4.300"/><circle cx="8.800" cy="24.300" r=".7" fill="#2b2b2b"/><path d="M5.500 7.800 3.300 10.200l3.100.8M17.600 6.300l2.900 1.600-1.600 2.800M4.800 16.200 3.200 19.100l3.300.5M16.200 19.800l1.900 2.600 2-2.800M20.700 13.300l1.700 2.500M1.800 13.800l1.900-2.100M14.800 14.300l4.200 1M7.300 5l-3-.4M17.300 3.300l1.900-1.300M13.500 22.500l2 1.500"/></g></svg>
<div class="il" style="left:1540.85px;top:1323.35px;height:60px;line-height:14.2px">Database of<br>Business Services</div>
<div class="dm" style="left:1567.15px;top:1325.65px"></div>
<div class="dm" style="left:1518.45px;top:1374.25px"></div>
<div class="sn" style="left:1673.41px;top:1329.65px;width:47.40px;height:47.40px"></div>
<svg class="ic" style="left:1687.61px;top:1345.75px" width="19.00" height="15.20" viewBox="0 0 640 512"><path fill="#2e2e2e" d="M278.9 511.5l-61-17.7c-6.4-1.8-10-8.5-8.2-14.9L346.2 8.7c1.8-6.4 8.5-10 14.9-8.2l61 17.7c6.4 1.8 10 8.5 8.2 14.9L293.8 503.3c-1.900 6.400-8.500 10.100-14.900 8.200zm-114-112.200l43.500-46.400c4.600-4.900 4.300-12.700-.800-17.200L117 256l90.600-79.700c5.100-4.500 5.500-12.300.800-17.200l-43.500-46.400c-4.500-4.800-12.100-5.100-17-.5L3.800 247.200c-5.100 4.700-5.100 12.800 0 17.500l144.100 135.100c4.900 4.600 12.500 4.400 17-.500zm327.200.600l144.100-135.100c5.100-4.700 5.100-12.800 0-17.500L492.100 112.100c-4.800-4.500-12.400-4.300-17 .5L431.600 159c-4.600 4.900-4.300 12.700.8 17.200L523 256l-90.600 79.700c-5.100 4.500-5.500 12.300-.8 17.200l43.500 46.400c4.500 4.900 12.100 5.100 17 .6z"/></svg>
<div class="dm" style="left:1693.71px;top:1325.65px"></div>
<div class="sn" style="left:1527.38px;top:1408.51px;width:47.40px;height:47.40px"></div>
<svg class="ic" style="left:1541.93px;top:1423.06px" width="18.30" height="18.30" viewBox="0 0 24 24"><path fill="#6d6d73" d="M22.2819 9.8211a5.9847 5.9847 0 0 0-.5157-4.9108 6.0462 6.0462 0 0 0-6.5098-2.9A6.0651 6.0651 0 0 0 4.9807 4.1818a5.9847 5.9847 0 0 0-3.9977 2.9 6.0462 6.0462 0 0 0 .7427 7.0966 5.98 5.98 0 0 0 .511 4.9107 6.051 6.051 0 0 0 6.5146 2.9001A5.9847 5.9847 0 0 0 13.2599 24a6.0557 6.0557 0 0 0 5.7718-4.2058 5.9894 5.9894 0 0 0 3.9977-2.9001 6.0557 6.0557 0 0 0-.7475-7.0729zm-9.022 12.6081a4.4755 4.4755 0 0 1-2.8764-1.0408l.1419-.0804 4.7783-2.7582a.7948.7948 0 0 0 .3927-.6813v-6.7369l2.02 1.1686a.071.071 0 0 1 .038.052v5.5826a4.504 4.504 0 0 1-4.4945 4.4944zm-9.6607-4.1254a4.4708 4.4708 0 0 1-.5346-3.0137l.142.0852 4.783 2.7582a.7712.7712 0 0 0 .7806 0l5.8428-3.3685v2.3324a.0804.0804 0 0 1-.0332.0615L9.74 19.9502a4.4992 4.4992 0 0 1-6.1408-1.6464zM2.3408 7.8956a4.485 4.485 0 0 1 2.3655-1.9728V11.6a.7664.7664 0 0 0 .3879.6765l5.8144 3.3543-2.0201 1.1685a.0757.0757 0 0 1-.071 0l-4.8303-2.7865A4.504 4.504 0 0 1 2.3408 7.872zm16.5963 3.8558L13.1038 8.364 15.1192 7.2a.0757.0757 0 0 1 .071 0l4.8303 2.7913a4.4944 4.4944 0 0 1-.6765 8.1042v-5.6772a.79.79 0 0 0-.407-.667zm2.0107-3.0231l-.142-.0852-4.7735-2.7818a.7759.7759 0 0 0-.7854 0L9.409 9.2297V6.8974a.0662.0662 0 0 1 .0284-.0615l4.8303-2.7866a4.4992 4.4992 0 0 1 6.6802 4.66zM8.3065 12.863l-2.02-1.1638a.0804.0804 0 0 1-.038-.0567V6.0742a4.4992 4.4992 0 0 1 7.3757-3.4537l-.142.0805L8.704 5.459a.7948.7948 0 0 0-.3927.6813zm1.0976-2.3654l2.602-1.4998 2.6069 1.4998v2.9994l-2.5974 1.4997-2.6067-1.4997Z"/></svg>
<div class="dm" style="left:1547.68px;top:1404.51px"></div>
<div class="plus" style="left:1476.27px;top:1285.88px"><b></b><u></u></div>
<div class="plus" style="left:1505.61px;top:1285.88px"><b></b><u></u></div>
<div class="nd" style="left:1449.21px;top:1601.65px;width:135.60px;height:58.30px"></div>
<svg class="ic" style="left:1460.71px;top:1621.30px" width="25.00" height="20.00" viewBox="0 0 640 512"><path fill="#2e2e2e" d="M32,224H64V416H32A31.96166,31.96166,0,0,1,0,384V256A31.96166,31.96166,0,0,1,32,224Zm512-48V448a64.06328,64.06328,0,0,1-64,64H160a64.06328,64.06328,0,0,1-64-64V176a79.974,79.974,0,0,1,80-80H288V32a32,32,0,0,1,64,0V96H464A79.974,79.974,0,0,1,544,176ZM264,256a40,40,0,1,0-40,40A39.997,39.997,0,0,0,264,256Zm-8,128H192v32h64Zm96,0H288v32h64ZM456,256a40,40,0,1,0-40,40A39.997,39.997,0,0,0,456,256Zm-8,128H384v32h64ZM640,256V384a31.96166,31.96166,0,0,1-32,32H576V224h32A31.96166,31.96166,0,0,1,640,256Z"/></svg>
<div class="il" style="left:1496.01px;top:1600.80px;height:60px">Internal Agent</div>
<div class="hin" style="left:1445.81px;top:1625.90px"></div>
<div class="hout" style="left:1579.96px;top:1625.95px"></div>
<div class="dm" style="left:1469.61px;top:1656.85px"></div>
<div class="dm" style="left:1498.94px;top:1656.85px"></div>
<div class="dm" style="left:1528.28px;top:1656.85px"></div>
<div class="dm" style="left:1557.61px;top:1656.85px"></div>
<div class="nd" style="left:1702.03px;top:1601.65px;width:58.30px;height:58.30px"></div>
<svg class="ic" style="left:1719.48px;top:1619.10px" width="23.40" height="23.40" viewBox="0 0 66 66"><circle cx="33" cy="33" r="31" fill="#2ba3df"/><path fill="#fff" d="M14.6 32.4 46.7 20c1.5-.5 2.8.4 2.3 2.6l-5.5 25.8c-.4 1.8-1.5 2.3-3 1.4l-8.4-6.2-4 3.9c-.5.5-.8.8-1.7.8l.6-8.5 15.500-14c.7-.6-.1-.9-1-.4L22.400 37.500l-8.200-2.600c-1.800-.500-1.800-1.800.400-2.500z"/></svg>
<div class="hin" style="left:1698.63px;top:1625.90px"></div>
<div class="hout" style="left:1755.48px;top:1625.95px"></div>
<div class="sn" style="left:1400.83px;top:1699.58px;width:47.40px;height:47.40px"></div>
<svg class="ic" style="left:1415.38px;top:1714.13px" width="18.30" height="18.30" viewBox="0 0 24 24"><g fill="none" stroke="#8f95a1" stroke-width="3" stroke-linejoin="round"><path d="M2.500 12C8 12 9.500 6.500 16 6.500h2"/><path d="M2.500 12C8 12 9.500 17.500 16 17.500h2"/></g><path fill="#8f95a1" d="M17 2.200 23.600 6.500 17 10.800zM17 13.200l6.600 4.300-6.600 4.300z"/></svg>
<div class="dm" style="left:1421.13px;top:1695.58px"></div>
<div class="sn" style="left:1497.69px;top:1699.58px;width:47.40px;height:47.40px"></div>
<svg class="ic" style="left:1511.89px;top:1716.16px" width="19.00" height="14.25" viewBox="52 42 88 66"><path fill="#4285f4" d="M58 108h14V74L52 59v43c0 3.32 2.69 6 6 6"/><path fill="#34a853" d="M120 108h14c3.32 0 6-2.69 6-6V59l-20 15"/><path fill="#fbbc04" d="M120 48v26l20-15v-8c0-7.42-8.47-11.65-14.4-7.2"/><path fill="#ea4335" d="M72 74V48l24 18 24-18v26L96 92"/><path fill="#c5221f" d="M52 51v8l20 15V48l-5.6-4.2c-5.94-4.45-14.4-.22-14.4 7.2"/></svg>
<div class="dm" style="left:1517.99px;top:1695.58px"></div>
<div class="sn" style="left:1595.53px;top:1699.58px;width:47.40px;height:47.40px"></div>
<svg class="ic" style="left:1609.73px;top:1715.68px" width="19.00" height="15.20" viewBox="0 0 640 512"><path fill="#2e2e2e" d="M278.9 511.5l-61-17.7c-6.4-1.8-10-8.5-8.2-14.9L346.2 8.7c1.8-6.4 8.5-10 14.9-8.2l61 17.7c6.4 1.8 10 8.5 8.2 14.9L293.8 503.3c-1.900 6.400-8.500 10.100-14.900 8.200zm-114-112.200l43.500-46.400c4.600-4.900 4.300-12.700-.800-17.200L117 256l90.600-79.700c5.100-4.500 5.500-12.300.800-17.200l-43.500-46.400c-4.500-4.800-12.100-5.100-17-.5L3.800 247.200c-5.100 4.700-5.100 12.800 0 17.500l144.100 135.100c4.900 4.600 12.500 4.400 17-.500zm327.200.600l144.100-135.100c5.100-4.700 5.100-12.800 0-17.500L492.100 112.100c-4.800-4.500-12.400-4.300-17 .5L431.600 159c-4.600 4.900-4.300 12.700.8 17.200L523 256l-90.600 79.700c-5.100 4.500-5.500 12.300-.8 17.200l43.500 46.400c4.500 4.900 12.100 5.100 17 .6z"/></svg>
<div class="dm" style="left:1615.83px;top:1695.58px"></div>
<div class="plus" style="left:1495.74px;top:1694.75px"><b></b><u></u></div>
<div class="plus" style="left:1525.08px;top:1694.75px"><b></b><u></u></div>
<div class="nl" style="left:774.50px;top:885.55px"><div class="t">Gmail Trigger</div><div class="s">Gmail Trigger</div></div>
<div class="ol" style="left:1153.23px;top:808.30px">Customer Sup...</div>
<div class="ol" style="left:1153.23px;top:827.75px">Finance</div>
<div class="ol" style="left:1153.23px;top:847.20px">Others</div>
<div class="ol" style="left:1153.23px;top:866.65px">Sales Opportu...</div>
<div class="ol" style="left:1153.23px;top:886.10px">Internal</div>
<div class="pl" style="left:984.60px;top:915.75px"><span>Model<i>*</i></span></div>
<div class="pl" style="left:1004.30px;top:941.00px"><span>Model</span></div>
<div class="nl" style="left:954.30px;top:1011.80px"><div class="t">GPT 5 mini</div></div>
<div class="pl" style="left:1354.87px;top:352.73px"><span>Chat Model<i>*</i></span></div>
<div class="pl" style="left:1413.54px;top:352.73px"><span>Memory</span></div>
<div class="pl" style="left:1442.87px;top:352.73px"><span>Tool</span></div>
<div class="nl" style="left:1533.83px;top:350.12px"><div class="t">Reply Email</div><div class="s">reply: message</div></div>
<div class="nl" style="left:1670.12px;top:350.12px"><div class="t">Label as Customer<br>Support</div><div class="s">addLabels: message</div></div>
<div class="pl" style="left:1316.12px;top:395.76px"><span>Model</span></div>
<div class="nl" style="left:1266.12px;top:466.56px"><div class="t">GPT 4o mini</div></div>
<div class="pl" style="left:1451.75px;top:395.76px"><span>Tool</span></div>
<div class="pl" style="left:1403.30px;top:469.16px"><span>Embedding<i>*</i></span></div>
<div class="pl" style="left:1393.30px;top:482.60px"><span>Embeddings</span></div>
<div class="nl" style="left:1343.30px;top:553.40px"><div class="t">Embeddings OpenAI</div></div>
<div class="pl" style="left:1335.39px;top:849.21px"><span>Chat Model<i>*</i></span></div>
<div class="pl" style="left:1364.72px;top:849.21px"><span>Memory</span></div>
<div class="pl" style="left:1394.07px;top:849.21px"><span>Tool</span></div>
<div class="pl" style="left:1423.39px;top:849.21px"><span>Output Parser</span></div>
<div class="ol" style="left:1620.81px;top:798.31px">Customer Rec...</div>
<div class="ol" style="left:1620.81px;top:817.81px">Vendor Invoice</div>
<div class="nl" style="left:1485.15px;top:846.61px"><div class="t">Route by Email Type</div><div class="s">mode: Rules</div></div>
<div class="nl" style="left:1640.91px;top:836.88px"><div class="t">Send a message to<br>Receivables Team</div><div class="s">send: message</div></div>
<div class="nl" style="left:1767.47px;top:836.88px"><div class="t">Notify Amount Received</div><div class="s">sendMessage: message</div></div>
<div class="nl" style="left:1640.91px;top:943.96px"><div class="t">Send a message to<br>Payments Team</div><div class="s">send: message</div></div>
<div class="nl" style="left:1767.47px;top:943.96px"><div class="t">Notify Amount to Pay</div><div class="s">sendMessage: message</div></div>
<div class="pl" style="left:1286.91px;top:872.78px"><span>Model</span></div>
<div class="nl" style="left:1236.91px;top:943.58px"><div class="t">GPT 4o mini1</div></div>
<div class="nl" style="left:1334.26px;top:943.58px"><div class="t">Label as Finance</div><div class="s">addLabels: message</div></div>
<div class="pl" style="left:1471.88px;top:872.78px"><span>Output Parser</span></div>
<div class="nl" style="left:1421.88px;top:943.58px"><div class="t">OutputFormat</div></div>
<div class="pl" style="left:1403.54px;top:1258.08px"><span>Chat Model<i>*</i></span></div>
<div class="pl" style="left:1432.87px;top:1258.08px"><span>Memory</span></div>
<div class="pl" style="left:1462.21px;top:1258.08px"><span>Tool</span></div>
<div class="pl" style="left:1491.54px;top:1258.08px"><span>Output Parser</span></div>
<div class="ol" style="left:1737.62px;top:1207.18px">true</div>
<div class="ol" style="left:1737.62px;top:1226.68px">false</div>
<div class="nl" style="left:1601.97px;top:1255.48px"><div class="t">Needs Review?</div></div>
<div class="nl" style="left:1806.41px;top:1245.75px"><div class="t">Send a message to user<br>to review the email...</div><div class="s">sendMessage: message</div></div>
<div class="nl" style="left:1709.06px;top:1372.30px"><div class="t">Email Draft</div><div class="s">create: draft</div></div>
<div class="nl" style="left:1806.41px;top:1372.30px"><div class="t">Send a message to user<br>to review drafted reply</div><div class="s">sendMessage: message</div></div>
<div class="pl" style="left:1286.91px;top:1310.85px"><span>Model</span></div>
<div class="nl" style="left:1236.91px;top:1381.65px"><div class="t">GPT 4o mini2</div></div>
<div class="nl" style="left:1334.26px;top:1381.65px"><div class="t">Label as Sales<br>Opportunities</div><div class="s">addLabels: message</div></div>
<div class="pl" style="left:1520.55px;top:1310.85px"><span>Tool</span></div>
<div class="pl" style="left:1471.85px;top:1384.25px"><span>Embedding<i>*</i></span></div>
<div class="pl" style="left:1647.11px;top:1310.85px"><span>Output Parser</span></div>
<div class="nl" style="left:1597.11px;top:1381.65px"><div class="t">Output Format</div></div>
<div class="pl" style="left:1501.08px;top:1389.71px"><span>Embeddings</span></div>
<div class="nl" style="left:1451.08px;top:1460.51px"><div class="t">Embeddings<br>OpenAI1</div></div>
<div class="pl" style="left:1423.01px;top:1666.95px"><span>Chat Model<i>*</i></span></div>
<div class="pl" style="left:1452.34px;top:1666.95px"><span>Memory</span></div>
<div class="pl" style="left:1481.68px;top:1666.95px"><span>Tool</span></div>
<div class="pl" style="left:1511.01px;top:1666.95px"><span>Output Parser</span></div>
<div class="nl" style="left:1631.18px;top:1664.35px"><div class="t">Send a summary of email<br>and from who</div><div class="s">sendMessage: message</div></div>
<div class="pl" style="left:1374.53px;top:1680.78px"><span>Model</span></div>
<div class="nl" style="left:1324.53px;top:1751.58px"><div class="t">GPT 4o mini3</div></div>
<div class="nl" style="left:1421.39px;top:1751.58px"><div class="t">Label as Internal</div><div class="s">addLabels: message</div></div>
<div class="pl" style="left:1569.23px;top:1680.78px"><span>Output Parser</span></div>
<div class="nl" style="left:1519.23px;top:1751.58px"><div class="t">Output Format1</div></div>
</div></body></html>
